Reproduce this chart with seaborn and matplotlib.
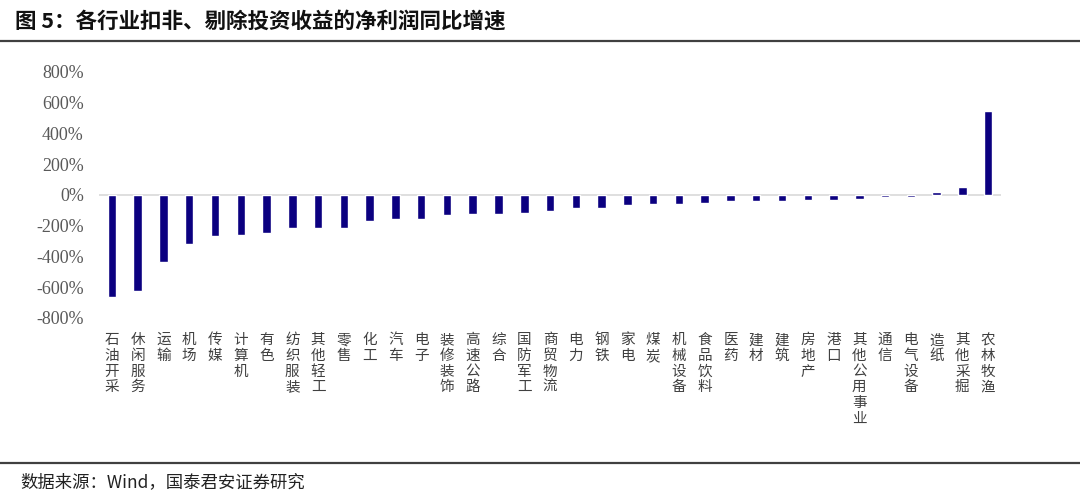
import numpy as np
import matplotlib
matplotlib.use("Agg")
import matplotlib.pyplot as plt
import seaborn as sns
import pandas as pd

# 各行业扣非、剔除投资收益的净利润同比增速 (%)
industries = ['石油开采', '休闲服务', '运输', '机场', '传媒', '计算机', '有色', '纺织服装',
              '其他轻工', '零售', '化工', '汽车', '电子', '装修装饰', '高速公路', '综合',
              '国防军工', '商贸物流', '电力', '钢铁', '家电', '煤炭', '机械设备', '食品饮料',
              '医药', '建材', '建筑', '房地产', '港口', '其他公用事业', '通信', '电气设备',
              '造纸', '其他采掘', '农林牧渔']
growth = [-662, -622, -435, -320, -268, -260, -247, -215,
          -215, -215, -169, -156, -156, -133, -126, -125,
          -120, -104, -87, -87, -65, -58, -58, -50,
          -43, -43, -37, -33, -33, -24, -17, -11,
          20, 50, 545]
yticks = [-800, -600, -400, -200, 0, 200, 400, 600, 800]

sns.set_style("white")
plt.rcParams['font.family'] = ['Noto Sans CJK SC', 'DejaVu Sans']

df = pd.DataFrame({'industry': industries, 'growth': growth})

fig = plt.figure(figsize=(10.8, 4.94), dpi=100)
ax = fig.add_axes([0.0917, 0.3563, 0.8352, 0.4986])

ax.axhline(0, color='#d9d9d9', lw=1.2, zorder=0)
sns.barplot(data=df, x='industry', y='growth', color='#0b0080', width=0.33,
            saturation=1, ax=ax, zorder=2)

ax.set_ylim(-800, 800)
ax.set_xlim(-0.5, len(industries) - 0.5)
ax.set_yticks(yticks)
ax.set_yticklabels([f'{v}%' for v in yticks], family=['Liberation Serif'],
                   fontsize=13, color='#595959')
ax.set_xticks(range(len(industries)))
ax.set_xticklabels(['\n'.join(c) for c in industries], fontsize=10.5,
                   color='#404040', va='top', linespacing=1.15)
ax.tick_params(axis='x', length=0, pad=11)
ax.tick_params(axis='y', length=0, pad=11)
ax.set_xlabel('')
ax.set_ylabel('')
for s in ax.spines.values():
    s.set_visible(False)

# title and source, with rules
fig.text(0.014, 0.958, '图 5：各行业扣非、剔除投资收益的净利润同比增速', fontsize=15.5,
         fontweight='bold', va='center', ha='left', color='#111111')
fig.add_artist(plt.Line2D([0, 1], [0.917, 0.917], color='#404040', lw=1.6))
fig.add_artist(plt.Line2D([0, 1], [0.063, 0.063], color='#404040', lw=1.6))
fig.text(0.019, 0.025, '数据来源：Wind，国泰君安证券研究', fontsize=12.5,
         va='center', ha='left', color='#222222')

fig.savefig('out.png', dpi=100)
